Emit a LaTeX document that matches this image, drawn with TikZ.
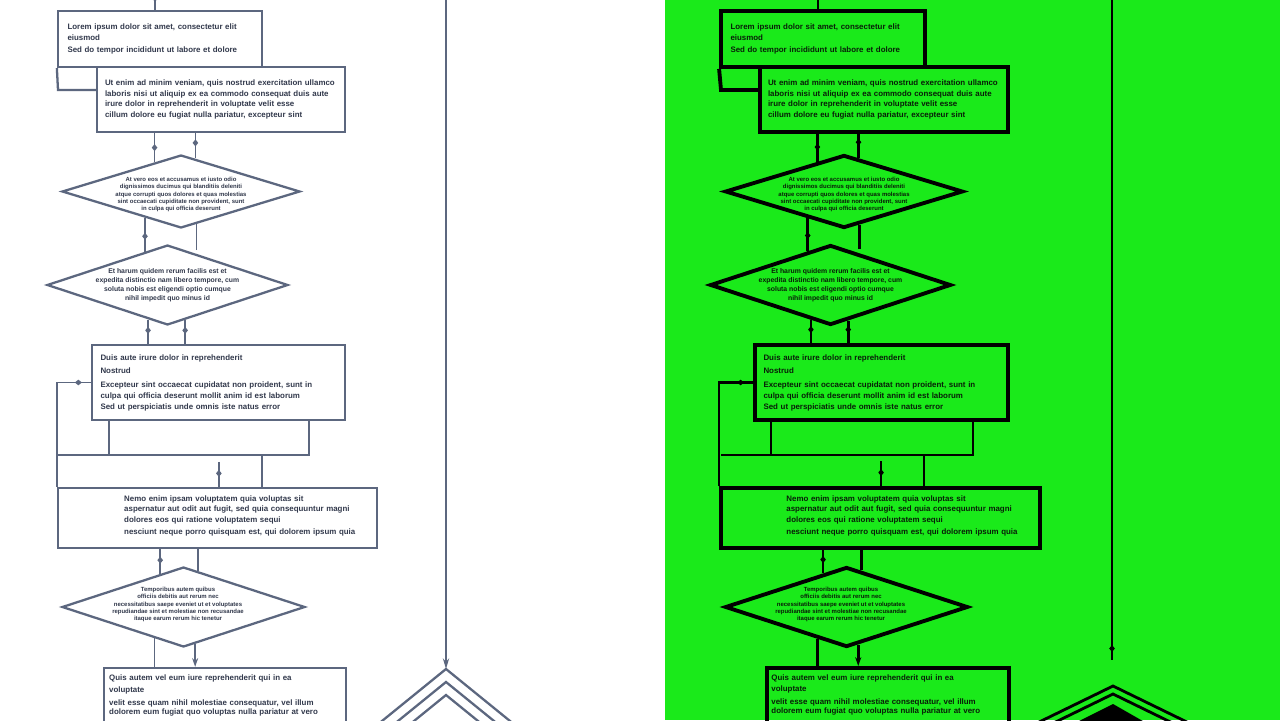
\documentclass[tikz,border=0pt]{standalone}
\usepackage{fontspec}
\setmainfont{Liberation Sans}
\usepackage{xcolor}
\usetikzlibrary{positioning}
\usetikzlibrary{shapes.geometric}
\usetikzlibrary{arrows.meta}
\usetikzlibrary{calc}
\usetikzlibrary{decorations.markings}

\definecolor{slate}{RGB}{92,103,127}
\definecolor{slatetext}{RGB}{50,57,76}
\definecolor{lime}{RGB}{26,234,26}
\definecolor{darkink}{RGB}{8,30,8}

\newcommand{\boxfont}{\fontsize{4.5}{6}\selectfont\bfseries}
\newcommand{\decfont}{\fontsize{3.4}{4.1}\selectfont\bfseries}
\newcommand{\decfontb}{\fontsize{3.9}{5.1}\selectfont\bfseries}

% one copy of the flow chart: #1 = shift (px), #2 = scope options
\newcommand{\flowpanel}[2]{%
\begin{scope}[shift={(#1,0)}, #2]

% Steps and decisions
\node[box, minimum width=4.08cm, minimum height=1.12cm, text width=3.7cm] (b1) at (160,39)
  {Lorem ipsum dolor sit amet, consectetur elit\\ eiusmod\\[1pt] Sed do tempor incididunt ut labore et dolore};

\node[box, minimum width=4.96cm, minimum height=1.3cm, text width=4.64cm] (b2) at (221,99.5)
  {Ut enim ad minim veniam, quis nostrud exercitation ullamco\\ laboris nisi ut aliquip ex ea commodo consequat duis aute\\ irure dolor in reprehenderit in voluptate velit esse\\ cillum dolore eu fugiat nulla pariatur, excepteur sint};
\coordinate (tab) at (58,90);
\draw[panel] (b1.south west) -- (tab) -- (tab -| b2.west);

\node[decision, minimum width=4.76cm, minimum height=1.46cm] (d1) at (181,191.5) {};
\node[dtext, font=\decfont] (d1t) at ([yshift=-0.06cm]d1.center)
  {At vero eos et accusamus et iusto odio\\ dignissimos ducimus qui blanditiis deleniti\\ atque corrupti quos dolores et quas molestias\\ sint occaecati cupiditate non provident, sunt\\ in culpa qui officia deserunt};

\node[decision, minimum width=4.82cm, minimum height=1.6cm] (d2) at (167.5,285) {};
\node[dtext, font=\decfontb] (d2t) at (d2.center)
  {Et harum quidem rerum facilis est et\\ expedita distinctio nam libero tempore, cum\\ soluta nobis est eligendi optio cumque\\ nihil impedit quo minus id};

\node[box, minimum width=5.06cm, minimum height=1.5cm, text width=4.72cm] (b3) at (218.5,382.5)
  {Duis aute irure dolor in reprehenderit\\[1.4pt] Nostrud\\[2.5pt] Excepteur sint occaecat cupidatat non proident, sunt in\\ culpa qui officia deserunt mollit anim id est laborum\\ Sed ut perspiciatis unde omnis iste natus error};

\node[frame, minimum width=6.38cm, minimum height=1.2cm] (b4) at (217.5,518) {};
\node[boxtext, anchor=west, text width=4.9cm] (b4t) at ([xshift=1.34cm, yshift=0.04cm]b4.west)
  {Nemo enim ipsam voluptatem quia voluptas sit\\ aspernatur aut odit aut fugit, sed quia consequuntur magni\\ dolores eos qui ratione voluptatem sequi\\[1pt] nesciunt neque porro quisquam est, qui dolorem ipsum quia};

\node[decision, minimum width=4.86cm, minimum height=1.6cm] (d3) at (183.5,607) {};
\node[dtext, font=\decfont] (d3t) at ([xshift=-0.11cm, yshift=0.05cm]d3.center)
  {Temporibus autem quibus\\ officiis debitis aut rerum nec\\ necessitatibus saepe eveniet ut et voluptates\\ repudiandae sint et molestiae non recusandae\\ itaque earum rerum hic tenetur};

\node[frame, minimum width=4.84cm, minimum height=1.44cm] (b5) at (225,704) {};
\node[boxtext, anchor=north west, text width=4.56cm] (b5t) at ([xshift=0.12cm, yshift=-0.16cm]b5.north west)
  {Quis autem vel eum iure reprehenderit qui in ea\\[0.5pt] voluptate\\[1.5pt] velit esse quam nihil molestiae consequatur, vel illum\\[-0.8pt] dolorem eum fugiat quo voluptas nulla pariatur at vero};

% Points on the diamond edges
\coordinate (d1a) at ($(d1.north)!0.22!(d1.west)$);
\coordinate (d1b) at ($(d1.north)!0.12!(d1.east)$);
\coordinate (d1c) at ($(d1.south)!0.30!(d1.west)$);
\coordinate (d1d) at ($(d1.south)!0.13!(d1.east)$);
\coordinate (d2a) at ($(d2.north)!0.19!(d2.west)$);
\coordinate (d2b) at ($(d2.north)!0.245!(d2.east)$);
\coordinate (d2c) at ($(d2.south)!0.16!(d2.west)$);
\coordinate (d2d) at ($(d2.south)!0.145!(d2.east)$);
\coordinate (d3a) at ($(d3.north)!0.19!(d3.west)$);
\coordinate (d3b) at ($(d3.north)!0.12!(d3.east)$);
\coordinate (d3c) at ($(d3.south)!0.235!(d3.west)$);
\coordinate (d3d) at ($(d3.south)!0.095!(d3.east)$);

% Connectors
\coordinate (entry) at (155,0);
\draw[link, blob=-0.16cm] (entry) -- (entry |- b1.north);
\draw[link, blob=-0.22cm] (d1a |- b2.south) -- (d1a);
\draw[link, blob=-0.24cm] (d1b |- b2.south) -- (d1b);
\draw[link, blob=-0.25cm] (d1c) -- (d1c |- d2a) -- (d2a);
\draw[link] (d1d) -- ($(d1d |- d2b)+(0,-4)$);
\draw[link, blob=-0.2cm] (d2c) -- (d2c |- b3.north);
\draw[link, blob=-0.2cm] (d2d) -- (d2d |- b3.north);

% Loop back and merge
\coordinate (merge) at (58,455);
\draw[link, blob=-0.18cm] (b4.north west) -- (b4.north west |- b3.west) -- (b3.west);
\draw[link] ([xshift=0.36cm]b3.south west) -- ([xshift=0.36cm]b3.south west |- merge);
\draw[link] ([xshift=-0.74cm]b3.south east) |- (merge);
\draw[link] ([xshift=4.1cm]b4.north west |- merge) -- ([xshift=4.1cm]b4.north west);
\draw[link, blob=-0.2cm] ([xshift=3.24cm, yshift=0.5cm]b4.north west) -- ([xshift=3.24cm]b4.north west);

\draw[link, blob=-0.2cm] (d3a |- b4.south) -- (d3a);
\draw[link] (d3b |- b4.south) -- (d3b);
\draw[link] (d3c) -- (d3c |- b5.north);
\draw[link, tip] (d3d) -- (d3d |- b5.north);

\end{scope}}

\begin{document}
\begin{tikzpicture}[x=0.02cm, y=-0.02cm,
  box/.style={panel, sheet, ink, align=left, font=\boxfont, inner sep=0pt},
  frame/.style={panel, sheet, inner sep=0pt},
  boxtext/.style={ink, align=left, font=\boxfont, inner sep=0pt},
  decision/.style={diamond, panel, sheet, inner sep=0pt},
  dtext/.style={ink, align=center, inner sep=0pt},
  blob/.style={postaction={decorate, decoration={markings,
    mark=at position #1 with {\arrow{Diamond[length=4pt, width=3.2pt]}}}}},
  blob/.default=-0.2cm,
  tip/.style={-{Stealth[length=5pt, width=3.4pt]}},
  % looks of one copy, set again for the green copy
  panel/.style={draw=slate, line width=1.3pt},
  link/.style={draw=slate, line width=0.9pt},
  sheet/.style={fill=white},
  ink/.style={text=slatetext}
]

\clip (0,0) rectangle (1280,720);
\fill[white] (0,0) rectangle (665,720);
\fill[lime] (665,0) rectangle (1280,720);

% Left copy
\flowpanel{0}{name prefix=L-}

% Right copy on green
\flowpanel{663}{name prefix=R-,
  panel/.style={draw=black, line width=2.2pt},
  link/.style={draw=black, line width=1.5pt},
  sheet/.style={fill=none},
  ink/.style={text=darkink}}

% Long rails and roofs
\coordinate (railL) at (446,0);
\coordinate (roofL) at (446,669);
\draw[draw=slate, line width=1pt, -{Stealth[length=6pt, width=3.5pt]}] (railL) -- (roofL);
\foreach \d in {0,13,26}
  \draw[draw=slate, line width=1.3pt] ([yshift=-\d*0.02cm]roofL) ++(-80,65) -- ++(80,-65) -- ++(80,65);

\coordinate (railR) at (1112,0);
\coordinate (railRend) at (1112,660);
\draw[draw=black, line width=1.5pt, blob=-0.16cm] (railR) -- (railRend);
\coordinate (roofR) at (1113,686);
\foreach \d in {0,8}
  \draw[draw=black, line width=1.6pt] ([yshift=-\d*0.02cm]roofR) ++(-80,39) -- ++(80,-39) -- ++(80,39);
\fill[black] ([yshift=-0.36cm]roofR) -- ++(-40,20) -- ++(75,0) -- cycle;

\end{tikzpicture}
\end{document}
